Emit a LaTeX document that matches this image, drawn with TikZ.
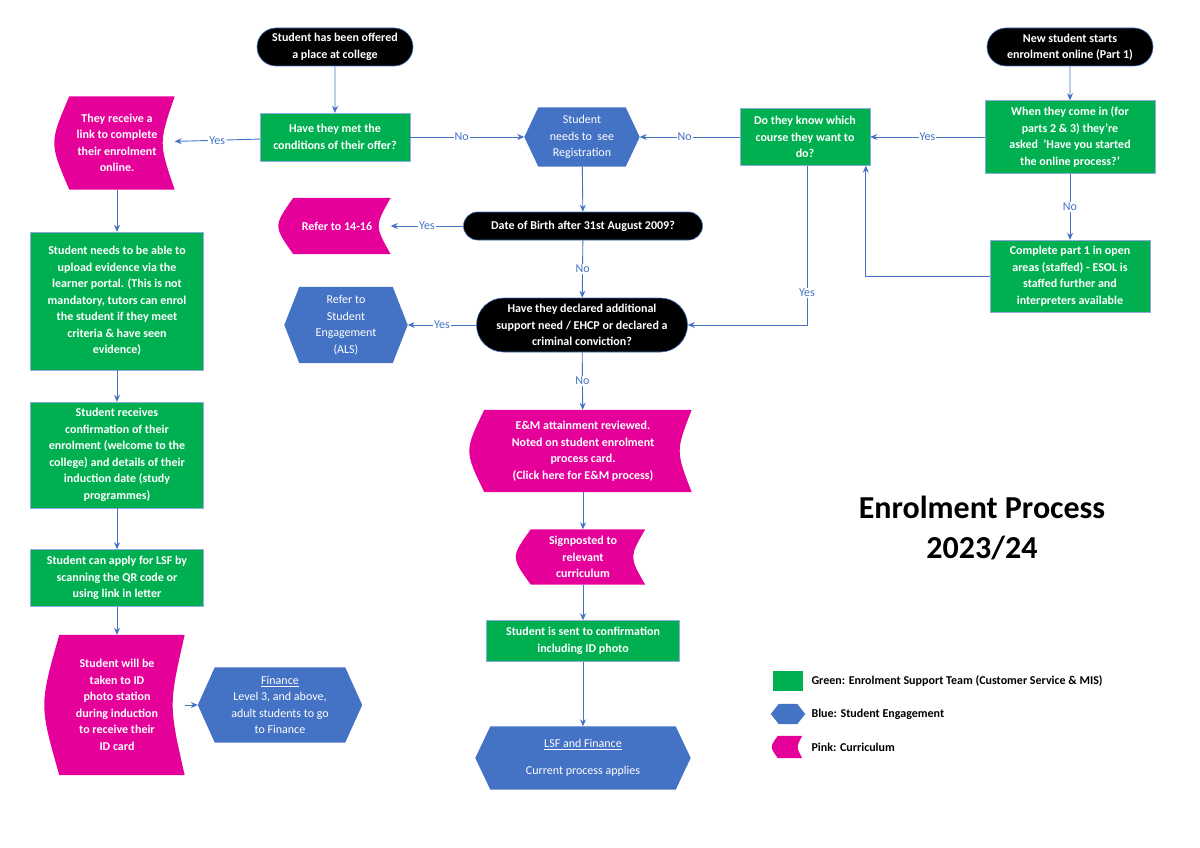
\documentclass[tikz,border=0pt]{standalone}
\usepackage{fontspec}
\setmainfont{Carlito}
\usetikzlibrary{shapes.misc,arrows.meta,calc,backgrounds}
\definecolor{gr}{HTML}{00B050}
\definecolor{pk}{HTML}{E6009A}
\definecolor{bl}{HTML}{4472C4}
\newcommand\pinkbg[1]{\fill[pk] ($(#1.north west)+(10,0)$) -- (#1.north east) .. controls ($(#1.east)+(-16,0)$) .. (#1.south east) -- ($(#1.south west)+(10,0)$) .. controls ($(#1.west)+(-10,0)$) .. ($(#1.north west)+(10,0)$) -- cycle;}
\newcommand\hexbg[2]{\fill[bl] (#1.west) -- ($(#1.north west)+(#2,0)$) -- ($(#1.north east)+(-#2,0)$) -- (#1.east) -- ($(#1.south east)+(-#2,0)$) -- ($(#1.south west)+(#2,0)$) -- cycle;}
\begin{document}
\begin{tikzpicture}[x=1pt,y=-1pt,
 base/.style={font=\fontsize{12}{16.5}\selectfont\bfseries, text=white, align=center, inner sep=2pt},
 term/.style={base, rounded rectangle, fill=black, draw=bl, line width=0.6pt},
 grn/.style={base, fill=gr, draw=bl!60, line width=0.4pt},
 pnk/.style={base},
 hex/.style={base, font=\fontsize{12}{16.5}\selectfont},
 arr/.style={draw=bl, line width=0.9pt, -{Stealth[length=7pt,width=6pt]}},
 lab/.style={fill=white, text=bl, font=\fontsize{12}{14}\selectfont, inner sep=1pt}]
\useasboundingbox (0,0) rectangle (1200,848);
\node[term, minimum width=160, minimum height=38] (s1) at (335,47) {Student has been offered\\a place at college};
\node[term, minimum width=170, minimum height=38] (s2) at (1070,47) {New student starts\\enrolment online (Part 1)};
\node[grn, minimum width=150, minimum height=48] (met) at (335,137) {Have they met the\\conditions of their offer?};
\node[pnk, minimum width=115, minimum height=93] (recv) at (117,143) {They receive a\\link to complete\\their enrolment\\online.};
\node[hex, minimum width=115, minimum height=59] (reg) at (582,137) {Student\\needs to \ see\\Registration};
\node[grn, minimum width=130, minimum height=57] (know) at (805,137) {Do they know which\\course they want to\\do?};
\node[grn, minimum width=170, minimum height=73] (when) at (1070,137) {When they come in (for\\parts 2 \& 3) they're\\asked \ 'Have you started\\the online process?'};
\node[grn, minimum width=160, minimum height=72] (comp) at (1070,276) {Complete part 1 in open\\areas (staffed) - ESOL is\\staffed further and\\interpreters available};
\node[term, minimum width=243, minimum height=28] (dob) at (583,226) {Date of Birth after 31st August 2009?};
\node[pnk, minimum width=107, minimum height=56] (r16) at (337,226) {Refer to 14-16};
\node[term, minimum width=215, minimum height=54] (dec) at (582,325) {Have they declared additional\\support need / EHCP or declared a\\criminal conviction?};
\node[hex, minimum width=123, minimum height=76] (rse) at (346,325) {Refer to\\Student\\Engagement\\(ALS)};
\node[pnk, minimum width=217, minimum height=82] (em) at (583,451) {E\&M attainment reviewed.\\Noted on student enrolment\\process card.\\(Click here for E\&M process)};
\node[pnk, minimum width=124, minimum height=55] (sig) at (583,557) {Signposted to\\relevant\\curriculum};
\node[grn, minimum width=193, minimum height=41] (cnf) at (583,641) {Student is sent to confirmation\\including ID photo};
\node[hex, minimum width=215, minimum height=63] (lsf) at (583,758) {\underline{LSF and Finance}\\[10pt]Current process applies};
\node[grn, minimum width=173, minimum height=138] (l1) at (117,301) {Student needs to be able to\\upload evidence via the\\learner portal. (This is not\\mandatory, tutors can enrol\\the student if they meet\\criteria \& have seen\\evidence)};
\node[grn, minimum width=173, minimum height=106] (l2) at (117,455) {Student receives\\confirmation of their\\enrolment (welcome to the\\college) and details of their\\induction date (study\\programmes)};
\node[grn, minimum width=173, minimum height=57] (l3) at (117,578) {Student can apply for LSF by\\scanning the QR code or\\using link in letter};
\node[pnk, minimum width=135, minimum height=140] (l4) at (117,705) {Student will be\\taken to ID\\photo station\\during induction\\to receive their\\ID card};
\node[hex, minimum width=164, minimum height=75] (fin) at (280,705) {\underline{Finance}\\Level 3, and above,\\adult students to go\\to Finance};
\node[font=\fontsize{32}{40}\selectfont\bfseries, align=center] (title) at (982,528) {Enrolment Process\\2023/24};
\node[fill=gr, minimum width=30, minimum height=20, inner sep=0] (lg) at (788,681) {};
\node[minimum width=34, minimum height=20, inner sep=0] (lb) at (788,714) {};
\node[minimum width=28, minimum height=22, inner sep=0] (lp) at (788,747) {};
\node[anchor=west, font=\fontsize{12}{14}\selectfont\bfseries] (tg) at (808,681) {Green: Enrolment Support Team (Customer Service \& MIS)};
\node[anchor=west, font=\fontsize{12}{14}\selectfont\bfseries] (tb) at (808,714) {Blue: Student Engagement};
\node[anchor=west, font=\fontsize{12}{14}\selectfont\bfseries] (tp) at (808,747) {Pink: Curriculum};
\begin{scope}[on background layer]
\pinkbg{recv}\pinkbg{r16}\pinkbg{em}\pinkbg{sig}\pinkbg{l4}
\fill[pk] ($(lp.north west)+(4,0)$) -- (lp.north east) .. controls ($(lp.east)+(-6,0)$) .. (lp.south east) -- ($(lp.south west)+(4,0)$) .. controls ($(lp.west)+(-4,0)$) .. ($(lp.north west)+(4,0)$) -- cycle;
\hexbg{reg}{14}\hexbg{rse}{15}\hexbg{lsf}{15}\hexbg{fin}{17}\hexbg{lb}{8}
\end{scope}
\draw[arr] (s1) -- (met);
\draw[arr] (met) -- node[lab]{Yes} (recv);
\draw[arr] (met) -- node[lab,pos=0.45]{No} (reg);
\draw[arr] (know) -- node[lab,pos=0.55]{No} (reg);
\draw[arr] (when) -- node[lab]{Yes} (know);
\draw[arr] (s2) -- (when);
\draw[arr] (when) -- node[lab]{No} (comp);
\draw[arr] (comp.west) -- ++(-124,0) coordinate (c1) -- (c1 |- know.south);
\draw[arr] (know.south -| 807,0) |- node[lab,pos=0.4]{Yes} (dec.east);
\draw[arr] (reg) -- (dob);
\draw[arr] (dob) -- node[lab]{Yes} (r16);
\draw[arr] (dob) -- node[lab]{No} (dec);
\draw[arr] (dec) -- node[lab]{Yes} (rse);
\draw[arr] (dec) -- node[lab,pos=0.5]{No} (em);
\draw[arr] (em) -- (sig);
\draw[arr] (sig) -- (cnf);
\draw[arr] (cnf) -- (lsf);
\draw[arr] (recv) -- (l1);
\draw[arr] (l1) -- (l2);
\draw[arr] (l2) -- (l3);
\draw[arr] (l3) -- (l4);
\draw[arr] (l4) -- (fin);
\end{tikzpicture}
\end{document}
